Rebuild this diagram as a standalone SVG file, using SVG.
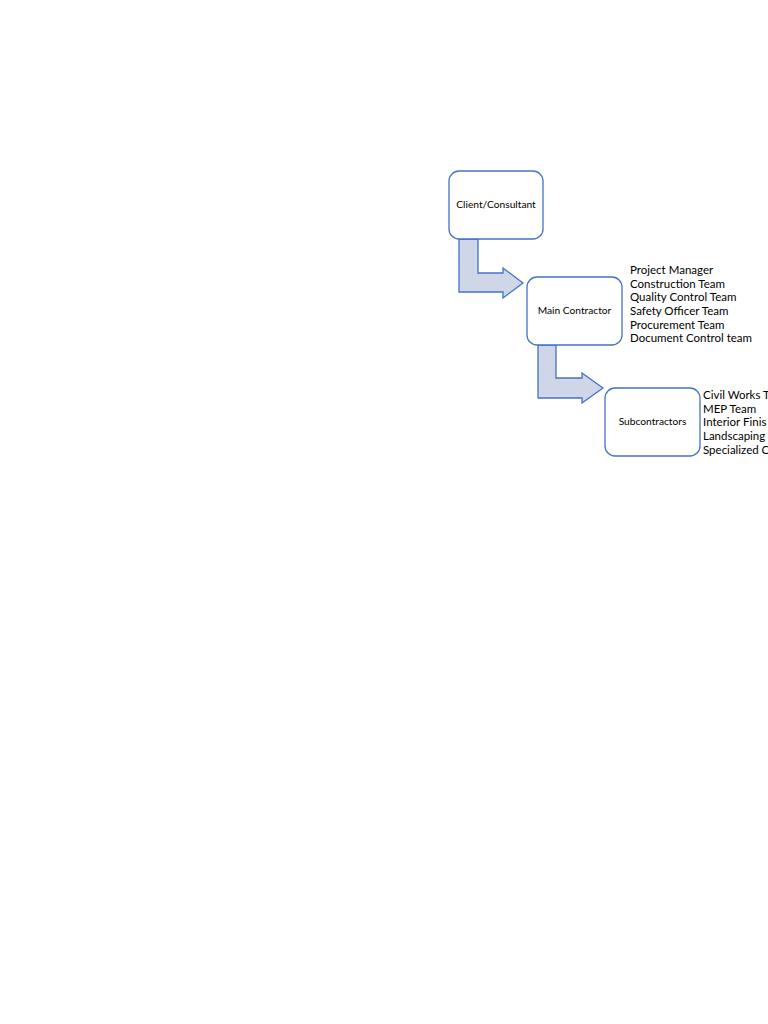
<svg xmlns="http://www.w3.org/2000/svg" width="768" height="1024" viewBox="0 0 768 1024">
<style>
.box{fill:#ffffff;stroke:#4472c4;stroke-width:1.3}
.arrow{fill:#cfd6e8;stroke:#4472c4;stroke-width:1.3;stroke-linejoin:miter}
.lbl{font-family:Lato,"Liberation Sans",sans-serif;font-size:10.2px;fill:#000;text-anchor:middle}
.lst{font-family:Lato,"Liberation Sans",sans-serif;font-size:11.5px;fill:#000}
</style>
<rect width="768" height="1024" fill="#ffffff"/>
<g id="connectors">
<path class="arrow" d="M459,239 L478,239 L478,273 L503,273 L503,268 L523,283 L503,298 L503,292 L459,292 Z"/>
<path class="arrow" d="M538,345 L556,345 L556,378 L582,378 L582,373 L603,388 L582,403 L582,398 L538,398 Z"/>
</g>
<g id="client">
<rect class="box" x="449" y="171" width="94" height="68" rx="10"/>
<text class="lbl" x="496" y="208">Client/Consultant</text>
</g>
<g id="main-contractor">
<rect class="box" x="527" y="277" width="95" height="68" rx="10"/>
<text class="lbl" x="574.5" y="314">Main Contractor</text>
</g>
<g id="main-contractor-teams">
<text class="lst" x="630" y="274">Project Manager</text>
<text class="lst" x="630" y="287.5">Construction Team</text>
<text class="lst" x="630" y="301">Quality Control Team</text>
<text class="lst" x="630" y="315">Safety Officer Team</text>
<text class="lst" x="630" y="328.5">Procurement Team</text>
<text class="lst" x="630" y="342">Document Control team</text>
</g>
<g id="subcontractors">
<rect class="box" x="605" y="388" width="95" height="68" rx="10"/>
<text class="lbl" x="652.5" y="425">Subcontractors</text>
</g>
<g id="subcontractor-teams">
<text class="lst" x="703" y="399">Civil Works T</text>
<text class="lst" x="703" y="412.5">MEP Team</text>
<text class="lst" x="703" y="426">Interior Finis</text>
<text class="lst" x="703" y="440">Landscaping</text>
<text class="lst" x="703" y="453.5">Specialized C</text>
</g>
</svg>
